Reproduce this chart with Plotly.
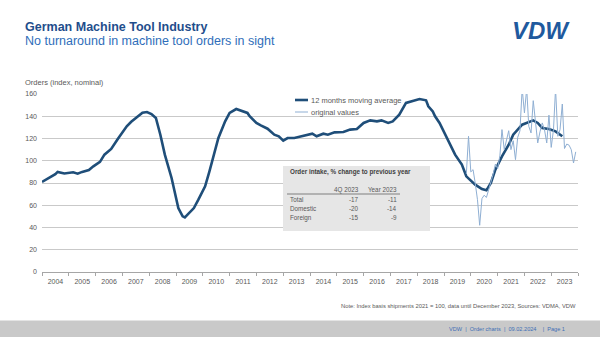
import plotly.graph_objects as go

# ---------------- data ----------------
ma_dates = ["2004-01", "2004-04", "2004-07", "2004-08", "2004-11", "2005-03", "2005-05", "2005-07",
            "2005-10", "2005-12", "2006-03", "2006-05", "2006-08", "2006-11", "2007-01", "2007-03",
            "2007-05", "2007-07", "2007-10", "2007-12", "2008-02", "2008-04", "2008-06", "2008-08",
            "2008-11", "2009-02", "2009-04", "2009-05", "2009-07", "2009-09", "2009-11", "2010-02",
            "2010-04", "2010-06", "2010-08", "2010-11", "2011-01", "2011-04", "2011-07", "2011-09",
            "2011-10", "2012-01", "2012-03", "2012-06", "2012-09", "2012-11", "2013-01", "2013-03",
            "2013-06", "2013-09", "2013-11", "2014-02", "2014-04", "2014-07", "2014-09", "2014-12",
            "2015-04", "2015-07", "2015-10", "2016-01", "2016-04", "2016-07", "2016-09", "2016-12",
            "2017-02", "2017-05", "2017-08", "2017-11", "2018-02", "2018-05", "2018-06", "2018-08",
            "2018-09", "2018-11", "2019-02", "2019-06", "2019-09", "2019-11", "2020-03", "2020-06",
            "2020-08", "2020-10", "2020-12", "2021-03", "2021-06", "2021-08", "2021-12", "2022-02",
            "2022-05", "2022-07", "2022-09", "2022-12", "2023-03", "2023-06"]
ma_values = [81, 84.5, 88, 90, 88.5, 89.6, 88.4, 90,
             91.7, 95, 99, 105.5, 110.6, 119.8, 125, 131,
             135, 138.4, 143.2, 143.8, 142, 138.4, 123.4, 105.5,
             84.5, 57.5, 50, 49, 53, 57.5, 65, 77,
             90.4, 105.5, 120.5, 135.4, 143, 146.5, 144.4, 143,
             140, 134, 131.8, 128.8, 123.4, 122, 118, 120.4,
             120.4, 122, 122.5, 124.3, 122, 124.3, 123.4, 125.5,
             125.9, 128, 128.5, 134, 136.3, 135.4, 136.3, 134,
             135.4, 141.4, 152, 154, 155.5, 154.3, 149, 144.4,
             140, 134, 122, 105.5, 96.5, 86, 78.5, 74.6,
             73.4, 80, 92, 104, 114.4, 123.4, 132.4, 134,
             136.3, 134, 129.5, 128.5, 126.4, 122]

orig_dates = ["2019-11", "2019-12",
              "2020-01", "2020-02", "2020-03", "2020-04", "2020-05", "2020-06",
              "2020-07", "2020-08", "2020-09", "2020-10", "2020-11", "2020-12",
              "2021-01", "2021-02", "2021-03", "2021-04", "2021-05", "2021-06",
              "2021-07", "2021-08", "2021-09", "2021-10", "2021-11", "2021-12",
              "2022-01", "2022-02", "2022-03", "2022-04", "2022-05", "2022-06",
              "2022-07", "2022-08", "2022-09", "2022-10", "2022-11", "2022-12",
              "2023-01", "2023-02", "2023-03", "2023-04", "2023-05", "2023-06",
              "2023-07", "2023-08", "2023-09", "2023-10", "2023-11", "2023-12"]
orig_values = [88, 122,
               90, 92, 80, 65, 42, 66,
               69, 67, 74, 80, 88, 97,
               93, 105, 128, 110, 120, 127,
               110, 118, 101, 121, 127, 165,
               143, 165, 131, 125, 154, 137,
               116, 126, 134, 128, 116, 141,
               112, 128, 165, 122, 128, 151,
               111, 115, 114, 110, 98, 108]

series_names = ["12 months moving average", "original values"]

table_title = "Order intake, % change to previous year"
table_cols = ["4Q 2023", "Year 2023"]
table_rows = ["Total", "Domestic", "Foreign"]
q4_2023 = [-17, -20, -15]
year_2023 = [-11, -14, -9]

title = "German Machine Tool Industry"
subtitle = "No turnaround in machine tool orders in sight"
y_title = "Orders (index, nominal)"
note = "Note: Index basis shipments 2021 = 100, data until December 2023, Sources: VDMA, VDW"
footer = "VDW  |  Order charts  |  09.02.2024    |  Page 1"

# ---------------- layout helpers ----------------
W, H = 600, 337
L, R, T, B = 42, 22, 94, 65
PW, PH = W - L - R, H - T - B


def px(x):
    return (x - L) / PW


def py(y):
    return (H - B - y) / PH


FONT = "Liberation Sans, Arial, sans-serif"
GREY = "#595959"
MA_COL = "#1F4E79"
ORIG_COL = "#8FAFD3"

fig = go.Figure()
fig.add_trace(go.Scatter(x=ma_dates, y=ma_values, mode="lines", name=series_names[0],
                         line=dict(color=MA_COL, width=2.6), showlegend=False))
fig.add_trace(go.Scatter(x=orig_dates, y=orig_values, mode="lines", name=series_names[1],
                         line=dict(color=ORIG_COL, width=1), showlegend=False))

shapes = []
ann = []

# header
ann.append(dict(text="<b>" + title + "</b>", x=px(22.5), y=py(27), xanchor="left", yanchor="middle",
                font=dict(size=12.5, color="#1F4E8C", family=FONT)))
ann.append(dict(text=subtitle, x=px(22.5), y=py(41.5), xanchor="left", yanchor="middle",
                font=dict(size=12.5, color="#2F6EBA", family=FONT)))
# logo
ann.append(dict(text="<b><i>VDW</i></b>", x=px(541), y=py(30.5), xanchor="center", yanchor="middle",
                font=dict(size=24, color="#1F5A9E", family=FONT)))

# y-axis title
ann.append(dict(text=y_title, x=px(23), y=py(82.5), xanchor="left", yanchor="middle",
                font=dict(size=7.5, color=GREY, family=FONT)))

# legend
leg_y = [100, 112]
leg_w = [2.6, 1]
leg_c = [MA_COL, ORIG_COL]
for i, nm in enumerate(series_names):
    shapes.append(dict(type="line", xref="paper", yref="paper", x0=px(295), x1=px(308),
                       y0=py(leg_y[i]), y1=py(leg_y[i]), line=dict(color=leg_c[i], width=leg_w[i])))
    ann.append(dict(text=nm, x=px(308.5), y=py(leg_y[i]), xanchor="left", yanchor="middle",
                    font=dict(size=7.5, color=GREY, family=FONT)))

# table box
shapes.append(dict(type="rect", xref="paper", yref="paper", x0=px(283), x1=px(430), y0=py(231), y1=py(166),
                   fillcolor="#E6E6E6", line=dict(width=0), layer="above"))
ann.append(dict(text="<b>" + table_title + "</b>", x=px(288), y=py(171.5), xanchor="left", yanchor="middle",
                font=dict(size=6.3, color="#404040", family=FONT)))
col_x = [361, 399]
for j, c in enumerate(table_cols):
    ann.append(dict(text=c, x=px(col_x[j]), y=py(189.5), xanchor="right", yanchor="middle",
                    font=dict(size=6.3, color=GREY, family=FONT)))
shapes.append(dict(type="line", xref="paper", yref="paper", x0=px(287), x1=px(400), y0=py(194), y1=py(194),
                   line=dict(color="#7F7F7F", width=1), layer="above"))
row_y = [199, 208.3, 217.7]
for i, rname in enumerate(table_rows):
    ann.append(dict(text=rname, x=px(288), y=py(row_y[i]), xanchor="left", yanchor="middle",
                    font=dict(size=6.3, color=GREY, family=FONT)))
    ann.append(dict(text=str(q4_2023[i]), x=px(col_x[0]), y=py(row_y[i]), xanchor="right", yanchor="middle",
                    font=dict(size=6.3, color=GREY, family=FONT)))
    ann.append(dict(text=str(year_2023[i]), x=px(col_x[1]), y=py(row_y[i]), xanchor="right", yanchor="middle",
                    font=dict(size=6.3, color=GREY, family=FONT)))

# note
ann.append(dict(text=note, x=px(578), y=py(306), xanchor="right", yanchor="middle",
                font=dict(size=5.8, color=GREY, family=FONT)))
# footer band
shapes.append(dict(type="rect", xref="paper", yref="paper", x0=px(0), x1=px(600), y0=py(337), y1=py(320.5),
                   fillcolor="#C9C9C9", line=dict(width=0), layer="below"))
ann.append(dict(text=footer, x=px(567), y=py(328.5), xanchor="right", yanchor="middle",
                font=dict(size=5.6, color="#3F6FB5", family=FONT)))

for a in ann:
    a.update(xref="paper", yref="paper", showarrow=False)

fig.update_layout(
    width=W, height=H,
    margin=dict(l=L, r=R, t=T, b=B, autoexpand=False),
    paper_bgcolor="white", plot_bgcolor="white",
    font=dict(family=FONT, color=GREY, size=7),
    shapes=shapes, annotations=ann,
    xaxis=dict(range=["2004-01-01", "2024-01-01"], type="date", dtick="M12", tick0="2004-01-01",
               tickformat="%Y", ticklabelmode="period", ticks="outside", ticklen=3,
               tickcolor="#A6A6A6", showline=True, linecolor="#A6A6A6", linewidth=1,
               showgrid=False, zeroline=False, tickfont=dict(size=7, color=GREY),
               fixedrange=True),
    yaxis=dict(range=[0, 160], dtick=20, showgrid=True, gridcolor="#C9C9C9", gridwidth=1,
               zeroline=False, showline=False, ticks="", tickfont=dict(size=7, color=GREY),
               ticklabelstandoff=4, fixedrange=True),
    showlegend=False,
)

fig.write_html("out.html", config={"displayModeBar": False})
